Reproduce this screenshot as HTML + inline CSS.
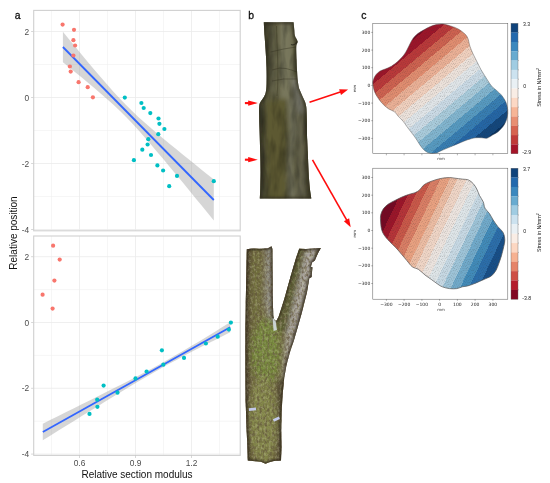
<!DOCTYPE html>
<html><head><meta charset="utf-8"><title>Figure</title>
<style>html,body{margin:0;padding:0;background:#fff}svg{display:block}text{font-family:"Liberation Sans",Arial,sans-serif}.dj{font-family:"DejaVu Sans","Liberation Sans",sans-serif}</style></head>
<body>
<svg width="550" height="483" viewBox="0 0 550 483">
<rect width="550" height="483" fill="#fff"/>
<defs><linearGradient id="g1" gradientUnits="userSpaceOnUse" x1="403.21" y1="44.15" x2="486.77" y2="143.74"><stop offset="0.0000" stop-color="#7c0722"/><stop offset="0.0238" stop-color="#7c0722"/><stop offset="0.0238" stop-color="#a21328"/><stop offset="0.0869" stop-color="#a21328"/><stop offset="0.0869" stop-color="#c2383a"/><stop offset="0.1492" stop-color="#c2383a"/><stop offset="0.1492" stop-color="#d86551"/><stop offset="0.2123" stop-color="#d86551"/><stop offset="0.2123" stop-color="#ec9374"/><stop offset="0.2754" stop-color="#ec9374"/><stop offset="0.2754" stop-color="#f7b99c"/><stop offset="0.3385" stop-color="#f7b99c"/><stop offset="0.3385" stop-color="#fddbc7"/><stop offset="0.4015" stop-color="#fddbc7"/><stop offset="0.4015" stop-color="#f9eee7"/><stop offset="0.4638" stop-color="#f9eee7"/><stop offset="0.4638" stop-color="#ecf2f5"/><stop offset="0.5269" stop-color="#ecf2f5"/><stop offset="0.5269" stop-color="#d4e6f1"/><stop offset="0.5900" stop-color="#d4e6f1"/><stop offset="0.5900" stop-color="#b1d5e7"/><stop offset="0.6531" stop-color="#b1d5e7"/><stop offset="0.6531" stop-color="#87beda"/><stop offset="0.7162" stop-color="#87beda"/><stop offset="0.7162" stop-color="#59a1ca"/><stop offset="0.7785" stop-color="#59a1ca"/><stop offset="0.7785" stop-color="#3783bb"/><stop offset="0.8415" stop-color="#3783bb"/><stop offset="0.8415" stop-color="#2369ad"/><stop offset="0.9046" stop-color="#2369ad"/><stop offset="0.9046" stop-color="#114781"/><stop offset="0.9677" stop-color="#114781"/><stop offset="0.9677" stop-color="#063264"/><stop offset="1.0000" stop-color="#063264"/></linearGradient>
<linearGradient id="g2" gradientUnits="userSpaceOnUse" x1="383.64" y1="203.86" x2="502.88" y2="260.48"><stop offset="0.0000" stop-color="#790622"/><stop offset="0.0833" stop-color="#790622"/><stop offset="0.0833" stop-color="#a21328"/><stop offset="0.1364" stop-color="#a21328"/><stop offset="0.1364" stop-color="#bf3338"/><stop offset="0.1894" stop-color="#bf3338"/><stop offset="0.1894" stop-color="#d35a4a"/><stop offset="0.2477" stop-color="#d35a4a"/><stop offset="0.2477" stop-color="#e58368"/><stop offset="0.3083" stop-color="#e58368"/><stop offset="0.3083" stop-color="#f5a886"/><stop offset="0.3712" stop-color="#f5a886"/><stop offset="0.3712" stop-color="#f9c6ac"/><stop offset="0.4242" stop-color="#f9c6ac"/><stop offset="0.4242" stop-color="#fce0d0"/><stop offset="0.4886" stop-color="#fce0d0"/><stop offset="0.4886" stop-color="#f9f0eb"/><stop offset="0.5492" stop-color="#f9f0eb"/><stop offset="0.5492" stop-color="#eaf1f5"/><stop offset="0.6121" stop-color="#eaf1f5"/><stop offset="0.6121" stop-color="#d1e5f0"/><stop offset="0.6727" stop-color="#d1e5f0"/><stop offset="0.6727" stop-color="#a5cee3"/><stop offset="0.7333" stop-color="#a5cee3"/><stop offset="0.7333" stop-color="#75b2d4"/><stop offset="0.7955" stop-color="#75b2d4"/><stop offset="0.7955" stop-color="#4291c2"/><stop offset="0.8561" stop-color="#4291c2"/><stop offset="0.8561" stop-color="#2a71b2"/><stop offset="0.9205" stop-color="#2a71b2"/><stop offset="0.9205" stop-color="#15508d"/><stop offset="1.0000" stop-color="#15508d"/></linearGradient>
<pattern id="mesh" width="40" height="40" patternUnits="userSpaceOnUse"><g fill="#2a2a2a" fill-opacity="0.42"><circle cx="0.2" cy="1.0" r="0.36"/><circle cx="1.6" cy="3.1" r="0.31"/><circle cx="40.0" cy="5.4" r="0.34"/><circle cx="1.2" cy="7.5" r="0.38"/><circle cx="0.9" cy="9.0" r="0.40"/><circle cx="1.1" cy="11.1" r="0.44"/><circle cx="0.5" cy="13.3" r="0.41"/><circle cx="1.0" cy="15.3" r="0.39"/><circle cx="0.3" cy="16.5" r="0.44"/><circle cx="1.5" cy="19.2" r="0.44"/><circle cx="0.7" cy="21.5" r="0.36"/><circle cx="1.8" cy="22.9" r="0.45"/><circle cx="0.9" cy="24.6" r="0.32"/><circle cx="1.2" cy="27.5" r="0.37"/><circle cx="0.6" cy="28.8" r="0.38"/><circle cx="1.4" cy="30.8" r="0.39"/><circle cx="0.6" cy="33.4" r="0.41"/><circle cx="2.0" cy="35.4" r="0.46"/><circle cx="0.7" cy="36.6" r="0.44"/><circle cx="2.0" cy="39.4" r="0.39"/><circle cx="2.7" cy="0.7" r="0.43"/><circle cx="3.6" cy="2.8" r="0.31"/><circle cx="2.9" cy="5.5" r="0.31"/><circle cx="3.8" cy="6.9" r="0.32"/><circle cx="2.3" cy="9.3" r="0.44"/><circle cx="3.0" cy="11.1" r="0.31"/><circle cx="2.7" cy="12.8" r="0.44"/><circle cx="4.0" cy="15.0" r="0.46"/><circle cx="2.3" cy="16.5" r="0.40"/><circle cx="3.0" cy="18.7" r="0.37"/><circle cx="2.6" cy="20.6" r="0.31"/><circle cx="3.9" cy="22.8" r="0.45"/><circle cx="2.9" cy="24.9" r="0.37"/><circle cx="3.5" cy="27.2" r="0.40"/><circle cx="2.6" cy="29.1" r="0.45"/><circle cx="3.5" cy="30.9" r="0.42"/><circle cx="2.2" cy="32.8" r="0.46"/><circle cx="3.5" cy="35.1" r="0.30"/><circle cx="2.4" cy="37.1" r="0.30"/><circle cx="3.6" cy="39.1" r="0.31"/><circle cx="4.6" cy="1.0" r="0.41"/><circle cx="5.3" cy="3.2" r="0.42"/><circle cx="4.0" cy="4.5" r="0.41"/><circle cx="6.0" cy="6.7" r="0.37"/><circle cx="4.6" cy="8.8" r="0.36"/><circle cx="5.3" cy="10.9" r="0.40"/><circle cx="4.3" cy="12.9" r="0.42"/><circle cx="5.0" cy="15.1" r="0.42"/><circle cx="4.3" cy="16.7" r="0.43"/><circle cx="5.2" cy="18.7" r="0.37"/><circle cx="4.7" cy="20.6" r="0.35"/><circle cx="5.3" cy="23.4" r="0.37"/><circle cx="4.9" cy="24.6" r="0.35"/><circle cx="5.7" cy="27.4" r="0.37"/><circle cx="4.2" cy="28.6" r="0.38"/><circle cx="5.2" cy="31.3" r="0.43"/><circle cx="4.2" cy="32.8" r="0.43"/><circle cx="5.7" cy="35.3" r="0.36"/><circle cx="4.1" cy="36.8" r="0.43"/><circle cx="5.2" cy="38.8" r="0.37"/><circle cx="6.4" cy="0.9" r="0.45"/><circle cx="7.1" cy="2.5" r="0.45"/><circle cx="6.9" cy="5.5" r="0.37"/><circle cx="8.0" cy="7.5" r="0.34"/><circle cx="6.8" cy="9.4" r="0.41"/><circle cx="7.5" cy="10.8" r="0.35"/><circle cx="6.2" cy="12.5" r="0.39"/><circle cx="7.3" cy="15.3" r="0.31"/><circle cx="6.9" cy="17.2" r="0.45"/><circle cx="7.9" cy="19.4" r="0.39"/><circle cx="6.0" cy="21.3" r="0.33"/><circle cx="7.3" cy="23.2" r="0.38"/><circle cx="6.4" cy="25.5" r="0.40"/><circle cx="7.3" cy="26.7" r="0.44"/><circle cx="6.5" cy="29.3" r="0.36"/><circle cx="7.2" cy="31.0" r="0.43"/><circle cx="6.1" cy="33.3" r="0.45"/><circle cx="7.8" cy="35.4" r="0.30"/><circle cx="6.6" cy="37.4" r="0.31"/><circle cx="7.2" cy="38.7" r="0.38"/><circle cx="8.4" cy="1.0" r="0.42"/><circle cx="9.0" cy="2.5" r="0.32"/><circle cx="8.1" cy="4.5" r="0.46"/><circle cx="9.9" cy="6.5" r="0.38"/><circle cx="8.3" cy="8.8" r="0.36"/><circle cx="9.7" cy="11.1" r="0.36"/><circle cx="8.2" cy="12.8" r="0.32"/><circle cx="9.6" cy="15.2" r="0.36"/><circle cx="8.0" cy="16.6" r="0.36"/><circle cx="9.6" cy="19.3" r="0.36"/><circle cx="8.8" cy="21.1" r="0.37"/><circle cx="9.4" cy="23.0" r="0.41"/><circle cx="8.4" cy="25.2" r="0.37"/><circle cx="9.2" cy="27.0" r="0.41"/><circle cx="8.0" cy="28.9" r="0.37"/><circle cx="9.9" cy="31.5" r="0.36"/><circle cx="8.9" cy="33.3" r="0.34"/><circle cx="9.5" cy="34.6" r="0.43"/><circle cx="8.7" cy="37.4" r="0.43"/><circle cx="9.7" cy="39.3" r="0.39"/><circle cx="10.1" cy="1.1" r="0.30"/><circle cx="11.1" cy="3.3" r="0.31"/><circle cx="10.1" cy="4.6" r="0.44"/><circle cx="11.1" cy="6.5" r="0.43"/><circle cx="10.1" cy="9.4" r="0.41"/><circle cx="11.9" cy="11.5" r="0.39"/><circle cx="10.8" cy="12.5" r="0.42"/><circle cx="11.5" cy="15.2" r="0.32"/><circle cx="10.8" cy="17.5" r="0.31"/><circle cx="11.3" cy="19.1" r="0.43"/><circle cx="10.2" cy="20.6" r="0.34"/><circle cx="11.6" cy="23.3" r="0.36"/><circle cx="10.4" cy="24.9" r="0.36"/><circle cx="11.4" cy="26.5" r="0.38"/><circle cx="11.0" cy="28.9" r="0.42"/><circle cx="11.1" cy="31.2" r="0.42"/><circle cx="10.7" cy="33.0" r="0.38"/><circle cx="11.7" cy="35.4" r="0.32"/><circle cx="10.1" cy="37.3" r="0.45"/><circle cx="11.5" cy="38.9" r="0.42"/><circle cx="12.2" cy="0.7" r="0.33"/><circle cx="13.6" cy="2.8" r="0.34"/><circle cx="12.7" cy="5.5" r="0.35"/><circle cx="13.7" cy="6.9" r="0.44"/><circle cx="12.6" cy="8.7" r="0.33"/><circle cx="13.0" cy="11.0" r="0.36"/><circle cx="12.1" cy="12.8" r="0.35"/><circle cx="13.8" cy="14.6" r="0.46"/><circle cx="12.5" cy="17.1" r="0.37"/><circle cx="13.9" cy="19.4" r="0.39"/><circle cx="12.5" cy="21.2" r="0.44"/><circle cx="13.4" cy="23.3" r="0.45"/><circle cx="12.5" cy="24.7" r="0.34"/><circle cx="13.7" cy="27.2" r="0.45"/><circle cx="12.9" cy="28.7" r="0.33"/><circle cx="13.2" cy="30.7" r="0.41"/><circle cx="12.9" cy="33.4" r="0.34"/><circle cx="13.9" cy="34.8" r="0.37"/><circle cx="12.8" cy="36.5" r="0.31"/><circle cx="13.9" cy="38.8" r="0.36"/><circle cx="14.6" cy="1.2" r="0.30"/><circle cx="15.3" cy="2.9" r="0.38"/><circle cx="14.2" cy="5.1" r="0.45"/><circle cx="15.4" cy="7.0" r="0.32"/><circle cx="14.3" cy="9.2" r="0.32"/><circle cx="15.9" cy="11.4" r="0.32"/><circle cx="15.0" cy="12.9" r="0.42"/><circle cx="15.8" cy="14.8" r="0.41"/><circle cx="14.7" cy="17.3" r="0.34"/><circle cx="15.8" cy="19.5" r="0.41"/><circle cx="14.5" cy="20.6" r="0.38"/><circle cx="15.3" cy="23.2" r="0.41"/><circle cx="14.6" cy="24.7" r="0.40"/><circle cx="15.6" cy="26.6" r="0.44"/><circle cx="14.7" cy="28.6" r="0.45"/><circle cx="15.1" cy="30.8" r="0.42"/><circle cx="14.6" cy="33.1" r="0.40"/><circle cx="15.5" cy="34.8" r="0.33"/><circle cx="14.0" cy="37.2" r="0.42"/><circle cx="15.5" cy="39.3" r="0.36"/><circle cx="16.2" cy="0.9" r="0.44"/><circle cx="17.0" cy="3.0" r="0.34"/><circle cx="16.8" cy="4.8" r="0.35"/><circle cx="17.4" cy="7.0" r="0.42"/><circle cx="16.3" cy="9.4" r="0.32"/><circle cx="17.2" cy="10.6" r="0.32"/><circle cx="16.8" cy="13.3" r="0.33"/><circle cx="17.2" cy="14.9" r="0.42"/><circle cx="16.8" cy="17.3" r="0.39"/><circle cx="17.1" cy="18.9" r="0.33"/><circle cx="16.5" cy="21.1" r="0.33"/><circle cx="17.2" cy="23.3" r="0.30"/><circle cx="16.8" cy="25.4" r="0.45"/><circle cx="17.4" cy="27.1" r="0.39"/><circle cx="16.6" cy="29.5" r="0.41"/><circle cx="17.3" cy="31.4" r="0.38"/><circle cx="16.6" cy="33.2" r="0.30"/><circle cx="17.8" cy="35.2" r="0.38"/><circle cx="16.5" cy="37.0" r="0.33"/><circle cx="17.5" cy="38.5" r="0.38"/><circle cx="18.7" cy="0.9" r="0.39"/><circle cx="20.0" cy="3.4" r="0.32"/><circle cx="18.8" cy="5.1" r="0.31"/><circle cx="19.3" cy="6.7" r="0.31"/><circle cx="18.5" cy="9.5" r="0.35"/><circle cx="19.9" cy="11.2" r="0.32"/><circle cx="18.9" cy="13.1" r="0.45"/><circle cx="19.7" cy="15.3" r="0.35"/><circle cx="18.8" cy="17.5" r="0.44"/><circle cx="19.4" cy="19.3" r="0.38"/><circle cx="18.1" cy="20.5" r="0.31"/><circle cx="19.2" cy="22.6" r="0.38"/><circle cx="18.7" cy="25.0" r="0.37"/><circle cx="19.7" cy="26.8" r="0.37"/><circle cx="18.8" cy="28.9" r="0.33"/><circle cx="19.9" cy="31.2" r="0.36"/><circle cx="18.4" cy="33.0" r="0.40"/><circle cx="19.2" cy="34.5" r="0.33"/><circle cx="18.8" cy="36.6" r="0.37"/><circle cx="19.2" cy="38.7" r="0.33"/><circle cx="20.4" cy="0.6" r="0.30"/><circle cx="21.1" cy="2.6" r="0.38"/><circle cx="20.0" cy="4.5" r="0.37"/><circle cx="21.4" cy="7.2" r="0.31"/><circle cx="20.4" cy="8.9" r="0.30"/><circle cx="22.0" cy="10.7" r="0.32"/><circle cx="20.5" cy="12.6" r="0.40"/><circle cx="21.3" cy="14.6" r="0.31"/><circle cx="20.8" cy="16.8" r="0.43"/><circle cx="21.5" cy="19.5" r="0.35"/><circle cx="20.2" cy="20.7" r="0.43"/><circle cx="21.6" cy="22.8" r="0.31"/><circle cx="20.7" cy="25.5" r="0.39"/><circle cx="21.0" cy="26.5" r="0.31"/><circle cx="20.1" cy="28.5" r="0.31"/><circle cx="21.7" cy="31.4" r="0.33"/><circle cx="21.0" cy="33.0" r="0.43"/><circle cx="22.0" cy="35.5" r="0.31"/><circle cx="20.3" cy="37.1" r="0.45"/><circle cx="21.0" cy="38.8" r="0.44"/><circle cx="22.1" cy="0.9" r="0.35"/><circle cx="23.7" cy="3.5" r="0.33"/><circle cx="22.8" cy="5.3" r="0.43"/><circle cx="23.6" cy="7.5" r="0.36"/><circle cx="22.4" cy="8.7" r="0.42"/><circle cx="23.5" cy="10.7" r="0.33"/><circle cx="22.7" cy="13.1" r="0.41"/><circle cx="23.4" cy="15.0" r="0.32"/><circle cx="22.7" cy="16.5" r="0.37"/><circle cx="23.8" cy="19.2" r="0.32"/><circle cx="22.2" cy="21.4" r="0.40"/><circle cx="23.9" cy="23.4" r="0.37"/><circle cx="22.9" cy="25.3" r="0.35"/><circle cx="23.4" cy="26.5" r="0.36"/><circle cx="23.0" cy="28.6" r="0.39"/><circle cx="23.1" cy="30.5" r="0.40"/><circle cx="22.2" cy="32.5" r="0.32"/><circle cx="23.7" cy="35.1" r="0.30"/><circle cx="22.2" cy="37.5" r="0.34"/><circle cx="23.6" cy="38.9" r="0.42"/><circle cx="24.6" cy="1.3" r="0.39"/><circle cx="25.2" cy="2.6" r="0.31"/><circle cx="24.9" cy="4.6" r="0.30"/><circle cx="26.0" cy="6.7" r="0.44"/><circle cx="24.0" cy="9.0" r="0.34"/><circle cx="25.9" cy="11.1" r="0.40"/><circle cx="24.8" cy="13.4" r="0.36"/><circle cx="25.6" cy="14.9" r="0.32"/><circle cx="24.9" cy="17.1" r="0.43"/><circle cx="25.2" cy="19.0" r="0.37"/><circle cx="24.8" cy="20.5" r="0.36"/><circle cx="25.5" cy="22.5" r="0.39"/><circle cx="24.8" cy="24.9" r="0.40"/><circle cx="25.6" cy="26.7" r="0.36"/><circle cx="25.0" cy="28.8" r="0.37"/><circle cx="25.0" cy="30.7" r="0.33"/><circle cx="25.0" cy="33.2" r="0.44"/><circle cx="26.0" cy="35.1" r="0.45"/><circle cx="24.5" cy="36.9" r="0.45"/><circle cx="25.9" cy="39.5" r="0.38"/><circle cx="26.8" cy="0.9" r="0.46"/><circle cx="28.0" cy="2.8" r="0.45"/><circle cx="26.2" cy="4.6" r="0.42"/><circle cx="27.3" cy="7.0" r="0.40"/><circle cx="26.0" cy="9.3" r="0.34"/><circle cx="27.4" cy="10.8" r="0.42"/><circle cx="26.8" cy="12.8" r="0.32"/><circle cx="27.3" cy="14.9" r="0.31"/><circle cx="26.1" cy="17.3" r="0.41"/><circle cx="28.0" cy="19.5" r="0.44"/><circle cx="26.4" cy="20.6" r="0.35"/><circle cx="27.5" cy="23.0" r="0.39"/><circle cx="26.3" cy="25.4" r="0.35"/><circle cx="27.5" cy="27.4" r="0.43"/><circle cx="26.3" cy="28.7" r="0.43"/><circle cx="27.0" cy="30.6" r="0.38"/><circle cx="26.5" cy="32.6" r="0.31"/><circle cx="27.2" cy="35.3" r="0.37"/><circle cx="27.0" cy="37.3" r="0.46"/><circle cx="27.0" cy="38.7" r="0.30"/><circle cx="28.4" cy="0.8" r="0.31"/><circle cx="29.6" cy="2.6" r="0.35"/><circle cx="28.2" cy="5.3" r="0.37"/><circle cx="29.2" cy="6.5" r="0.37"/><circle cx="28.6" cy="9.2" r="0.45"/><circle cx="29.8" cy="10.7" r="0.32"/><circle cx="28.8" cy="13.3" r="0.38"/><circle cx="29.9" cy="15.1" r="0.34"/><circle cx="28.1" cy="16.5" r="0.40"/><circle cx="29.9" cy="19.4" r="0.37"/><circle cx="28.7" cy="21.5" r="0.43"/><circle cx="29.6" cy="22.9" r="0.38"/><circle cx="28.1" cy="24.7" r="0.41"/><circle cx="30.0" cy="27.1" r="0.37"/><circle cx="28.3" cy="29.0" r="0.43"/><circle cx="29.4" cy="31.5" r="0.32"/><circle cx="28.3" cy="33.0" r="0.37"/><circle cx="29.9" cy="35.4" r="0.45"/><circle cx="28.6" cy="36.5" r="0.39"/><circle cx="29.6" cy="39.0" r="0.34"/><circle cx="30.7" cy="1.5" r="0.32"/><circle cx="31.7" cy="2.9" r="0.38"/><circle cx="30.9" cy="5.5" r="0.40"/><circle cx="31.2" cy="7.5" r="0.33"/><circle cx="30.4" cy="9.4" r="0.35"/><circle cx="31.2" cy="11.5" r="0.45"/><circle cx="30.3" cy="12.9" r="0.35"/><circle cx="31.1" cy="14.7" r="0.46"/><circle cx="30.0" cy="16.7" r="0.33"/><circle cx="31.0" cy="19.0" r="0.42"/><circle cx="30.9" cy="21.1" r="0.43"/><circle cx="31.0" cy="22.8" r="0.45"/><circle cx="30.0" cy="24.7" r="0.38"/><circle cx="31.2" cy="27.1" r="0.31"/><circle cx="30.2" cy="29.5" r="0.32"/><circle cx="31.9" cy="30.6" r="0.46"/><circle cx="30.7" cy="33.2" r="0.32"/><circle cx="31.0" cy="35.3" r="0.33"/><circle cx="30.2" cy="37.4" r="0.44"/><circle cx="31.0" cy="39.5" r="0.39"/><circle cx="32.4" cy="0.6" r="0.36"/><circle cx="34.0" cy="2.8" r="0.32"/><circle cx="32.1" cy="4.6" r="0.36"/><circle cx="34.0" cy="6.5" r="0.33"/><circle cx="33.0" cy="9.5" r="0.46"/><circle cx="33.2" cy="10.8" r="0.45"/><circle cx="32.5" cy="13.2" r="0.35"/><circle cx="33.0" cy="14.8" r="0.42"/><circle cx="32.8" cy="17.1" r="0.37"/><circle cx="33.5" cy="18.9" r="0.39"/><circle cx="32.9" cy="20.7" r="0.40"/><circle cx="34.0" cy="23.4" r="0.33"/><circle cx="33.0" cy="25.4" r="0.33"/><circle cx="33.2" cy="26.7" r="0.31"/><circle cx="33.0" cy="28.9" r="0.44"/><circle cx="33.1" cy="30.5" r="0.44"/><circle cx="32.8" cy="33.5" r="0.41"/><circle cx="33.5" cy="35.3" r="0.31"/><circle cx="32.5" cy="36.9" r="0.32"/><circle cx="33.6" cy="38.8" r="0.38"/><circle cx="34.4" cy="0.8" r="0.36"/><circle cx="35.6" cy="3.5" r="0.45"/><circle cx="34.9" cy="5.4" r="0.35"/><circle cx="36.0" cy="6.7" r="0.32"/><circle cx="34.5" cy="9.3" r="0.35"/><circle cx="35.7" cy="10.8" r="0.45"/><circle cx="34.4" cy="13.0" r="0.39"/><circle cx="35.9" cy="15.5" r="0.38"/><circle cx="34.4" cy="17.1" r="0.31"/><circle cx="35.4" cy="19.4" r="0.42"/><circle cx="34.0" cy="21.4" r="0.36"/><circle cx="36.0" cy="22.9" r="0.33"/><circle cx="34.6" cy="25.4" r="0.37"/><circle cx="35.9" cy="27.2" r="0.36"/><circle cx="34.3" cy="29.0" r="0.36"/><circle cx="35.4" cy="31.2" r="0.44"/><circle cx="34.6" cy="32.6" r="0.34"/><circle cx="35.4" cy="35.1" r="0.32"/><circle cx="34.0" cy="36.8" r="0.35"/><circle cx="35.0" cy="39.0" r="0.45"/><circle cx="36.5" cy="1.3" r="0.43"/><circle cx="37.9" cy="3.5" r="0.37"/><circle cx="36.7" cy="4.6" r="0.44"/><circle cx="37.4" cy="7.0" r="0.44"/><circle cx="36.3" cy="8.7" r="0.43"/><circle cx="37.6" cy="10.5" r="0.30"/><circle cx="36.3" cy="12.5" r="0.43"/><circle cx="37.2" cy="14.8" r="0.36"/><circle cx="36.5" cy="16.9" r="0.40"/><circle cx="37.7" cy="18.9" r="0.32"/><circle cx="37.0" cy="21.2" r="0.31"/><circle cx="37.4" cy="23.3" r="0.46"/><circle cx="36.0" cy="24.5" r="0.38"/><circle cx="37.4" cy="27.4" r="0.43"/><circle cx="36.3" cy="28.9" r="0.39"/><circle cx="37.9" cy="30.7" r="0.36"/><circle cx="36.0" cy="33.2" r="0.30"/><circle cx="38.0" cy="35.0" r="0.39"/><circle cx="36.0" cy="36.7" r="0.38"/><circle cx="37.9" cy="39.0" r="0.35"/><circle cx="39.0" cy="1.2" r="0.38"/><circle cx="39.2" cy="2.8" r="0.44"/><circle cx="38.1" cy="5.0" r="0.40"/><circle cx="39.3" cy="7.3" r="0.45"/><circle cx="38.9" cy="9.3" r="0.33"/><circle cx="39.0" cy="10.9" r="0.35"/><circle cx="38.2" cy="13.4" r="0.33"/><circle cx="39.9" cy="15.5" r="0.32"/><circle cx="39.0" cy="16.9" r="0.33"/><circle cx="39.2" cy="18.5" r="0.38"/><circle cx="38.4" cy="21.4" r="0.43"/><circle cx="39.0" cy="22.9" r="0.36"/><circle cx="38.1" cy="24.7" r="0.34"/><circle cx="39.7" cy="26.8" r="0.32"/><circle cx="38.2" cy="28.9" r="0.39"/><circle cx="39.2" cy="31.2" r="0.33"/><circle cx="38.7" cy="33.1" r="0.33"/><circle cx="39.8" cy="34.9" r="0.39"/><circle cx="38.6" cy="37.1" r="0.37"/><circle cx="39.0" cy="39.3" r="0.44"/></g></pattern>
<clipPath id="c1"><path d="M372.8,83.3C372.7,81.4 373.0,80.8 373.5,79.4C374.0,78.0 374.8,76.2 375.9,74.8C376.9,73.4 378.2,72.2 379.8,71.2C381.4,70.2 383.3,69.8 385.2,69.0C387.1,68.2 389.3,67.4 391.4,66.2C393.5,65.0 395.7,63.3 397.6,61.6C399.5,59.9 401.4,58.1 403.0,56.1C404.6,54.1 405.7,52.0 406.9,49.9C408.1,47.8 409.0,45.6 410.0,43.7C411.0,41.8 411.8,40.0 413.1,38.3C414.4,36.6 416.0,35.0 417.8,33.6C419.6,32.2 421.9,31.0 424.0,29.8C426.1,28.6 428.1,27.5 430.2,26.6C432.3,25.7 434.3,25.0 436.4,24.6C438.5,24.2 440.4,23.8 442.8,24.0C445.2,24.2 447.9,25.1 450.5,25.9C453.1,26.7 456.0,27.7 458.3,29.0C460.6,30.3 462.9,32.1 464.5,33.6C466.1,35.1 467.0,36.2 467.9,38.3C468.8,40.4 469.0,43.5 469.9,46.1C470.8,48.7 471.8,51.2 473.0,53.8C474.2,56.4 475.6,59.0 476.9,61.6C478.2,64.2 479.5,67.0 480.8,69.3C482.1,71.6 483.4,73.5 484.7,75.6C486.0,77.7 487.4,80.0 488.6,81.8C489.8,83.6 490.3,84.7 491.7,86.2C493.1,87.7 495.4,89.4 497.1,90.9C498.8,92.5 500.4,93.7 501.8,95.5C503.2,97.3 504.7,99.4 505.7,101.7C506.7,104.0 507.4,106.9 507.7,109.5C507.9,112.1 507.8,114.7 507.2,117.3C506.6,119.9 505.5,122.7 504.1,125.0C502.7,127.3 500.6,129.5 498.7,131.2C496.8,132.9 494.4,133.9 492.5,135.1C490.6,136.3 488.8,137.8 487.0,138.2C485.2,138.6 483.5,137.9 481.6,137.8C479.7,137.7 477.7,137.5 475.4,137.8C473.1,138.1 470.2,139.0 467.6,139.8C465.0,140.7 462.7,141.7 459.8,142.9C456.9,144.1 453.6,145.5 450.5,146.8C447.4,148.1 443.6,149.7 441.2,150.7C438.8,151.7 438.2,152.6 436.4,153.0C434.6,153.4 432.1,153.7 430.2,153.3C428.3,152.9 426.5,152.0 424.8,150.7C423.1,149.3 421.5,147.1 420.1,145.2C418.7,143.2 417.6,141.1 416.2,139.0C414.8,136.9 413.2,134.9 411.6,132.8C410.1,130.7 408.3,128.6 406.9,126.6C405.5,124.6 404.4,122.8 403.0,121.1C401.6,119.4 399.8,118.0 398.4,116.5C397.0,115.0 396.2,113.1 394.5,111.8C392.8,110.5 390.4,110.1 388.3,108.7C386.2,107.3 383.9,105.2 382.1,103.3C380.3,101.4 378.7,99.2 377.4,97.1C376.1,95.0 375.1,93.2 374.3,90.9C373.5,88.6 372.9,85.2 372.8,83.3Z"/></clipPath>
<clipPath id="c2"><path d="M380.5,220.0C380.4,217.6 380.4,216.3 380.8,214.5C381.2,212.7 382.1,210.8 383.2,209.1C384.3,207.4 385.9,205.9 387.7,204.5C389.5,203.1 391.8,202.1 394.1,200.9C396.4,199.7 399.0,198.4 401.4,197.3C403.8,196.2 406.3,195.3 408.6,194.5C410.9,193.7 413.2,193.4 415.0,192.7C416.8,191.9 418.1,191.2 419.5,190.0C420.9,188.8 421.8,186.7 423.2,185.5C424.6,184.3 425.7,183.6 427.7,182.7C429.7,181.8 432.6,180.8 435.0,180.0C437.4,179.2 439.9,178.6 442.3,178.2C444.7,177.8 447.4,177.6 449.5,177.6C451.6,177.6 452.9,177.9 455.0,178.2C457.1,178.4 460.0,178.8 462.3,179.1C464.6,179.4 466.8,179.2 468.6,180.0C470.4,180.8 471.8,182.1 473.2,183.6C474.6,185.1 475.8,187.1 476.8,189.1C477.9,191.1 478.4,193.4 479.5,195.5C480.6,197.6 482.3,199.7 483.2,201.8C484.1,203.9 483.9,206.2 485.0,208.2C486.1,210.2 488.1,211.6 489.5,213.6C490.9,215.6 491.8,217.9 493.2,220.0C494.6,222.1 496.0,224.3 497.7,226.4C499.4,228.5 502.0,230.4 503.2,232.7C504.4,235.0 504.7,237.7 504.8,240.0C504.9,242.3 504.3,244.2 503.7,246.8C503.1,249.5 502.2,253.0 501.4,255.9C500.5,258.8 499.5,261.7 498.6,264.1C497.7,266.5 497.1,268.5 495.9,270.5C494.7,272.5 493.1,274.5 491.4,275.9C489.7,277.2 487.9,277.7 485.9,278.6C483.9,279.5 481.6,280.5 479.5,281.4C477.4,282.3 475.2,283.4 473.2,284.1C471.2,284.9 469.5,285.4 467.7,285.9C465.9,286.3 464.1,286.4 462.3,286.8C460.5,287.2 458.9,288.3 456.8,288.6C454.7,288.9 451.9,288.9 449.5,288.6C447.1,288.3 444.3,287.6 442.3,286.8C440.3,286.1 439.5,285.3 437.7,284.1C435.9,282.9 433.5,281.0 431.4,279.5C429.3,278.0 427.1,276.7 425.0,275.0C422.9,273.3 420.7,270.9 418.6,269.5C416.5,268.1 414.3,268.3 412.3,266.8C410.3,265.3 408.6,262.6 406.8,260.5C405.0,258.4 403.2,256.2 401.4,254.1C399.6,252.0 397.9,249.8 395.9,247.7C393.9,245.6 391.5,243.5 389.5,241.4C387.5,239.3 385.4,237.1 384.1,235.0C382.8,232.9 382.1,231.5 381.5,229.0C380.9,226.5 380.6,222.4 380.5,220.0Z"/></clipPath>
<linearGradient id="tr1" x1="0" y1="0" x2="1" y2="0">
<stop offset="0" stop-color="#3b3a25"/><stop offset="0.12" stop-color="#4d4c33"/><stop offset="0.35" stop-color="#5c5b40"/><stop offset="0.6" stop-color="#66654a"/><stop offset="0.82" stop-color="#55543a"/><stop offset="1" stop-color="#3d3c28"/></linearGradient>
<linearGradient id="tr2" x1="0" y1="0" x2="1" y2="0">
<stop offset="0" stop-color="#3f3a26"/><stop offset="0.15" stop-color="#5d5538"/><stop offset="0.4" stop-color="#6f7040"/><stop offset="0.7" stop-color="#7a7a50"/><stop offset="0.9" stop-color="#5b5038"/><stop offset="1" stop-color="#3a3022"/></linearGradient>
<linearGradient id="tr3" gradientUnits="userSpaceOnUse" x1="285" y1="280" x2="305" y2="290">
<stop offset="0" stop-color="#5c5a36"/><stop offset="0.35" stop-color="#7b7a55"/><stop offset="0.6" stop-color="#9b9690"/><stop offset="0.85" stop-color="#6d675f"/><stop offset="1" stop-color="#3e382f"/></linearGradient>
<filter id="noise1" x="0" y="0" width="100%" height="100%"><feTurbulence type="fractalNoise" baseFrequency="0.12 0.035" numOctaves="3" seed="4" result="n"/><feColorMatrix in="n" type="matrix" values="0 0 0 0 0  0 0 0 0 0  0 0 0 0 0  1.6 0 0 0 -0.55"/></filter>
<filter id="noise2" x="0" y="0" width="100%" height="100%"><feTurbulence type="fractalNoise" baseFrequency="0.4 0.3" numOctaves="3" seed="9" result="n"/><feColorMatrix in="n" type="matrix" values="0 0 0 0 0.13  0 0 0 0 0.10  0 0 0 0 0.05  0 0 0 3.0 -1.2"/></filter>
<filter id="noise3" x="0" y="0" width="100%" height="100%"><feTurbulence type="fractalNoise" baseFrequency="0.45 0.32" numOctaves="3" seed="21" result="n"/><feColorMatrix in="n" type="matrix" values="0 0 0 0 0.62  0 0 0 0 0.64  0 0 0 0 0.38  0 0 0 3.0 -1.3"/></filter>
<filter id="bl1"><feGaussianBlur stdDeviation="0.5"/></filter><filter id="bl1b"><feGaussianBlur stdDeviation="1"/></filter><filter id="bl2"><feGaussianBlur stdDeviation="1.6"/></filter><filter id="bl3" x="-50%" y="-20%" width="200%" height="140%"><feGaussianBlur stdDeviation="2.2"/></filter>
<marker id="ah" viewBox="0 0 10 8" refX="9" refY="4" markerWidth="9" markerHeight="6.4" markerUnits="userSpaceOnUse" orient="auto"><path d="M0,0L10,4L0,8Z" fill="#ff0d0d"/></marker></defs>
<g>
<rect x="33.7" y="10.4" width="206.5" height="220.4" fill="#fff"/>
<line x1="33.7" x2="240.2" y1="64.5" y2="64.5" stroke="#f0f0f0" stroke-width="0.6"/>
<line x1="33.7" x2="240.2" y1="130.5" y2="130.5" stroke="#f0f0f0" stroke-width="0.6"/>
<line x1="33.7" x2="240.2" y1="196.5" y2="196.5" stroke="#f0f0f0" stroke-width="0.6"/>
<line x1="51.5" x2="51.5" y1="10.4" y2="230.8" stroke="#f0f0f0" stroke-width="0.6"/>
<line x1="107.5" x2="107.5" y1="10.4" y2="230.8" stroke="#f0f0f0" stroke-width="0.6"/>
<line x1="163.5" x2="163.5" y1="10.4" y2="230.8" stroke="#f0f0f0" stroke-width="0.6"/>
<line x1="219.5" x2="219.5" y1="10.4" y2="230.8" stroke="#f0f0f0" stroke-width="0.6"/>
<line x1="33.7" x2="240.2" y1="31.5" y2="31.5" stroke="#ebebeb" stroke-width="0.8"/>
<line x1="31.1" x2="33.7" y1="31.5" y2="31.5" stroke="#bdbdbd" stroke-width="0.6"/>
<text x="29.2" y="34.5" font-size="8.4" fill="#4d4d4d" text-anchor="end">2</text>
<line x1="33.7" x2="240.2" y1="97.5" y2="97.5" stroke="#ebebeb" stroke-width="0.8"/>
<line x1="31.1" x2="33.7" y1="97.5" y2="97.5" stroke="#bdbdbd" stroke-width="0.6"/>
<text x="29.2" y="100.5" font-size="8.4" fill="#4d4d4d" text-anchor="end">0</text>
<line x1="33.7" x2="240.2" y1="163.5" y2="163.5" stroke="#ebebeb" stroke-width="0.8"/>
<line x1="31.1" x2="33.7" y1="163.5" y2="163.5" stroke="#bdbdbd" stroke-width="0.6"/>
<text x="29.2" y="166.5" font-size="8.4" fill="#4d4d4d" text-anchor="end">-2</text>
<line x1="33.7" x2="240.2" y1="229.5" y2="229.5" stroke="#ebebeb" stroke-width="0.8"/>
<line x1="31.1" x2="33.7" y1="229.5" y2="229.5" stroke="#bdbdbd" stroke-width="0.6"/>
<text x="29.2" y="232.5" font-size="8.4" fill="#4d4d4d" text-anchor="end">-4</text>
<line x1="79.5" x2="79.5" y1="10.4" y2="230.8" stroke="#ebebeb" stroke-width="0.8"/>
<line x1="135.5" x2="135.5" y1="10.4" y2="230.8" stroke="#ebebeb" stroke-width="0.8"/>
<line x1="191.5" x2="191.5" y1="10.4" y2="230.8" stroke="#ebebeb" stroke-width="0.8"/>
</g>
<g>
<rect x="33.7" y="236.0" width="206.5" height="219.4" fill="#fff"/>
<line x1="33.7" x2="240.2" y1="289.6" y2="289.6" stroke="#f0f0f0" stroke-width="0.6"/>
<line x1="33.7" x2="240.2" y1="355.4" y2="355.4" stroke="#f0f0f0" stroke-width="0.6"/>
<line x1="33.7" x2="240.2" y1="421.2" y2="421.2" stroke="#f0f0f0" stroke-width="0.6"/>
<line x1="51.5" x2="51.5" y1="236.0" y2="455.4" stroke="#f0f0f0" stroke-width="0.6"/>
<line x1="107.5" x2="107.5" y1="236.0" y2="455.4" stroke="#f0f0f0" stroke-width="0.6"/>
<line x1="163.5" x2="163.5" y1="236.0" y2="455.4" stroke="#f0f0f0" stroke-width="0.6"/>
<line x1="219.5" x2="219.5" y1="236.0" y2="455.4" stroke="#f0f0f0" stroke-width="0.6"/>
<line x1="33.7" x2="240.2" y1="256.7" y2="256.7" stroke="#ebebeb" stroke-width="0.8"/>
<line x1="31.1" x2="33.7" y1="256.7" y2="256.7" stroke="#bdbdbd" stroke-width="0.6"/>
<text x="29.2" y="259.7" font-size="8.4" fill="#4d4d4d" text-anchor="end">2</text>
<line x1="33.7" x2="240.2" y1="322.5" y2="322.5" stroke="#ebebeb" stroke-width="0.8"/>
<line x1="31.1" x2="33.7" y1="322.5" y2="322.5" stroke="#bdbdbd" stroke-width="0.6"/>
<text x="29.2" y="325.5" font-size="8.4" fill="#4d4d4d" text-anchor="end">0</text>
<line x1="33.7" x2="240.2" y1="388.3" y2="388.3" stroke="#ebebeb" stroke-width="0.8"/>
<line x1="31.1" x2="33.7" y1="388.3" y2="388.3" stroke="#bdbdbd" stroke-width="0.6"/>
<text x="29.2" y="391.3" font-size="8.4" fill="#4d4d4d" text-anchor="end">-2</text>
<line x1="33.7" x2="240.2" y1="454.1" y2="454.1" stroke="#ebebeb" stroke-width="0.8"/>
<line x1="31.1" x2="33.7" y1="454.1" y2="454.1" stroke="#bdbdbd" stroke-width="0.6"/>
<text x="29.2" y="457.1" font-size="8.4" fill="#4d4d4d" text-anchor="end">-4</text>
<line x1="79.5" x2="79.5" y1="236.0" y2="455.4" stroke="#ebebeb" stroke-width="0.8"/>
<line x1="135.5" x2="135.5" y1="236.0" y2="455.4" stroke="#ebebeb" stroke-width="0.8"/>
<line x1="191.5" x2="191.5" y1="236.0" y2="455.4" stroke="#ebebeb" stroke-width="0.8"/>
</g>
<path d="M62.9,31.8L69.2,39.4L75.5,47.1L81.8,54.7L88.0,62.2L94.3,69.7L100.6,77.1L106.9,84.3L113.2,91.4L119.5,98.2L125.8,104.7L132.1,111.0L138.3,116.9L144.6,122.5L150.9,128.0L157.2,133.4L163.5,138.7L169.8,143.9L176.1,149.0L182.4,154.2L188.7,159.3L194.9,164.3L201.2,169.4L207.5,174.5L213.8,179.5L213.8,220.5L207.5,212.8L201.2,205.1L194.9,197.4L188.7,189.7L182.4,182.1L176.1,174.5L169.8,166.9L163.5,159.3L157.2,151.9L150.9,144.5L144.6,137.2L138.3,130.1L132.1,123.3L125.8,116.8L119.5,110.5L113.2,104.6L106.9,98.9L100.6,93.4L94.3,88.1L88.0,82.8L81.8,77.6L75.5,72.4L69.2,67.3L62.9,62.2Z" fill="#999" fill-opacity="0.4"/>
<line x1="62.9" y1="47.0" x2="213.8" y2="200.0" stroke="#3366ff" stroke-width="1.8"/>
<circle cx="62.6" cy="24.6" r="2.1" fill="#f8766d"/>
<circle cx="74.0" cy="29.8" r="2.1" fill="#f8766d"/>
<circle cx="73.4" cy="40.2" r="2.1" fill="#f8766d"/>
<circle cx="75.1" cy="45.5" r="2.1" fill="#f8766d"/>
<circle cx="73.4" cy="55.5" r="2.1" fill="#f8766d"/>
<circle cx="69.9" cy="66.5" r="2.1" fill="#f8766d"/>
<circle cx="70.7" cy="71.6" r="2.1" fill="#f8766d"/>
<circle cx="78.6" cy="82.2" r="2.1" fill="#f8766d"/>
<circle cx="87.7" cy="87.2" r="2.1" fill="#f8766d"/>
<circle cx="92.9" cy="97.3" r="2.1" fill="#f8766d"/>
<circle cx="124.8" cy="97.6" r="2.1" fill="#00bfc4"/>
<circle cx="141.4" cy="103.0" r="2.1" fill="#00bfc4"/>
<circle cx="143.7" cy="108.0" r="2.1" fill="#00bfc4"/>
<circle cx="150.3" cy="113.1" r="2.1" fill="#00bfc4"/>
<circle cx="158.5" cy="118.5" r="2.1" fill="#00bfc4"/>
<circle cx="159.4" cy="123.8" r="2.1" fill="#00bfc4"/>
<circle cx="164.4" cy="129.0" r="2.1" fill="#00bfc4"/>
<circle cx="158.3" cy="134.2" r="2.1" fill="#00bfc4"/>
<circle cx="148.3" cy="139.2" r="2.1" fill="#00bfc4"/>
<circle cx="147.6" cy="144.5" r="2.1" fill="#00bfc4"/>
<circle cx="142.3" cy="149.7" r="2.1" fill="#00bfc4"/>
<circle cx="151.0" cy="155.0" r="2.1" fill="#00bfc4"/>
<circle cx="133.9" cy="160.2" r="2.1" fill="#00bfc4"/>
<circle cx="157.4" cy="165.4" r="2.1" fill="#00bfc4"/>
<circle cx="163.1" cy="170.5" r="2.1" fill="#00bfc4"/>
<circle cx="177.0" cy="175.9" r="2.1" fill="#00bfc4"/>
<circle cx="169.2" cy="186.2" r="2.1" fill="#00bfc4"/>
<circle cx="213.8" cy="181.2" r="2.1" fill="#00bfc4"/>
<path d="M42.8,423.7L50.6,419.8L58.4,416.0L66.2,412.1L74.0,408.2L81.8,404.3L89.6,400.4L97.5,396.5L105.3,392.6L113.1,388.6L120.9,384.7L128.7,380.7L136.5,376.7L144.3,372.6L152.1,368.4L159.9,364.2L167.7,359.8L175.5,355.3L183.3,350.7L191.2,346.1L199.0,341.4L206.8,336.7L214.6,331.9L222.4,327.1L230.2,322.3L230.2,332.3L222.4,336.2L214.6,340.2L206.8,344.1L199.0,348.1L191.2,352.1L183.3,356.2L175.5,360.4L167.7,364.6L159.9,369.0L152.1,373.4L144.3,378.0L136.5,382.6L128.7,387.3L120.9,392.1L113.1,396.8L105.3,401.6L97.5,406.4L89.6,411.2L81.8,416.1L74.0,420.9L66.2,425.7L58.4,430.6L50.6,435.4L42.8,440.3Z" fill="#999" fill-opacity="0.4"/>
<line x1="42.8" y1="432.0" x2="230.2" y2="327.3" stroke="#3366ff" stroke-width="1.8"/>
<circle cx="53.1" cy="245.7" r="2.1" fill="#f8766d"/>
<circle cx="59.7" cy="259.6" r="2.1" fill="#f8766d"/>
<circle cx="54.4" cy="280.6" r="2.1" fill="#f8766d"/>
<circle cx="42.6" cy="294.7" r="2.1" fill="#f8766d"/>
<circle cx="52.6" cy="308.6" r="2.1" fill="#f8766d"/>
<circle cx="103.6" cy="385.6" r="2.1" fill="#00bfc4"/>
<circle cx="117.5" cy="392.7" r="2.1" fill="#00bfc4"/>
<circle cx="97.2" cy="399.7" r="2.1" fill="#00bfc4"/>
<circle cx="97.4" cy="406.8" r="2.1" fill="#00bfc4"/>
<circle cx="89.5" cy="413.9" r="2.1" fill="#00bfc4"/>
<circle cx="135.5" cy="378.4" r="2.1" fill="#00bfc4"/>
<circle cx="230.9" cy="322.6" r="2.1" fill="#00bfc4"/>
<circle cx="228.9" cy="329.6" r="2.1" fill="#00bfc4"/>
<circle cx="217.7" cy="336.7" r="2.1" fill="#00bfc4"/>
<circle cx="205.9" cy="343.5" r="2.1" fill="#00bfc4"/>
<circle cx="184.0" cy="357.9" r="2.1" fill="#00bfc4"/>
<circle cx="161.9" cy="350.3" r="2.1" fill="#00bfc4"/>
<circle cx="163.3" cy="364.7" r="2.1" fill="#00bfc4"/>
<circle cx="146.6" cy="371.5" r="2.1" fill="#00bfc4"/>
<rect x="33.7" y="10.4" width="206.5" height="220.4" fill="none" stroke="#d0d0d0" stroke-width="1.1"/>
<rect x="33.7" y="236.0" width="206.5" height="219.4" fill="none" stroke="#d0d0d0" stroke-width="1.1"/>
<line x1="79.5" x2="79.5" y1="455.4" y2="458" stroke="#bdbdbd" stroke-width="0.6"/>
<text x="79.5" y="466.4" font-size="8.4" fill="#4d4d4d" text-anchor="middle">0.6</text>
<line x1="135.5" x2="135.5" y1="455.4" y2="458" stroke="#bdbdbd" stroke-width="0.6"/>
<text x="135.5" y="466.4" font-size="8.4" fill="#4d4d4d" text-anchor="middle">0.9</text>
<line x1="191.5" x2="191.5" y1="455.4" y2="458" stroke="#bdbdbd" stroke-width="0.6"/>
<text x="191.5" y="466.4" font-size="8.4" fill="#4d4d4d" text-anchor="middle">1.2</text>
<text x="137" y="478" font-size="10" fill="#111" text-anchor="middle">Relative section modulus</text>
<text transform="translate(17.4,233) rotate(-90)" font-size="10" fill="#111" text-anchor="middle">Relative position</text>
<text x="14.8" y="18.8" font-size="10.4" fill="#111" stroke="#111" stroke-width="0.3">a</text>
<text x="248.2" y="18.6" font-size="10.4" fill="#111" stroke="#111" stroke-width="0.3">b</text>
<text x="361.2" y="19.2" font-size="10.4" fill="#111" stroke="#111" stroke-width="0.3">c</text>
<clipPath id="ct1"><path d="M293.6,22.3C293.7,23.6 294.1,27.7 294.3,30.0C294.5,32.3 294.4,34.1 295.0,36.0C295.6,37.9 297.4,39.8 297.6,41.5C297.8,43.2 296.5,43.4 296.3,46.5C296.1,49.6 296.5,56.1 296.6,60.0C296.7,63.9 296.8,66.7 297.0,70.0C297.2,73.3 297.4,77.1 297.7,80.0C298.0,82.9 298.4,85.5 298.8,87.3C299.2,89.1 299.7,89.8 300.2,91.0C300.7,92.2 301.1,93.2 301.7,94.5C302.2,95.8 302.9,97.3 303.5,98.5C304.1,99.7 304.6,100.6 305.0,101.8C305.4,103.0 305.8,104.3 306.0,105.5C306.2,106.7 306.4,106.6 306.5,109.0C306.6,111.4 306.7,114.8 306.8,120.0C306.9,125.2 307.0,134.7 307.2,140.0C307.4,145.3 307.6,146.7 307.8,152.0C308.0,157.3 308.3,166.0 308.6,172.0C308.9,178.0 309.4,183.6 309.8,188.0C310.2,192.4 311.1,196.7 311.3,198.4L259.8,198.4C259.9,196.7 260.2,192.4 260.3,188.0C260.4,183.6 260.6,178.0 260.6,172.0C260.6,166.0 260.4,158.8 260.2,152.0C260.0,145.2 259.8,137.2 259.6,131.0C259.4,124.8 259.2,119.2 259.2,115.0C259.1,110.8 259.1,108.1 259.3,106.0C259.5,103.9 259.7,103.6 260.2,102.5C260.7,101.4 261.5,100.5 262.2,99.5C262.9,98.5 263.6,97.8 264.2,96.5C264.8,95.2 265.4,94.1 265.8,92.0C266.2,89.9 266.5,88.2 266.6,84.0C266.7,79.8 266.7,72.7 266.5,67.0C266.3,61.3 265.9,55.2 265.6,50.0C265.3,44.8 264.9,40.6 264.6,36.0C264.3,31.4 263.9,24.6 263.8,22.3Z"/></clipPath>
<g clip-path="url(#ct1)"><rect x="255" y="20" width="60" height="182" fill="#5b593d"/>
<g filter="url(#bl3)">
<path d="M262,20 L269,20 L270,88 L264,100 L266,200 L256,200 L256,100 L264,90Z" fill="#403e2a" opacity="0.8"/>
<path d="M279,20 L292,20 L294,84 L290,100 L280,100 L279,80Z" fill="#7a795e" opacity="0.95"/>
<path d="M270.5,24 L274.5,24 L276,95 L271,95Z" fill="#727156" opacity="0.8"/>
<path d="M266,102 L286,98 L287,150 L286,200 L268,200 L266,150Z" fill="#5d5932" opacity="0.9"/>
<path d="M288,98 L294,98 L296,130 L293,165 L295,200 L289,200 L288,165 L290,130Z" fill="#82826c" opacity="0.75"/>
<path d="M296,96 L304,96 L306,200 L296,200 L297,150Z" fill="#66644f" opacity="0.8"/>
<path d="M304,110 L314,110 L315,200 L306,200Z" fill="#434129" opacity="0.8"/>
<path d="M291,78 L297,78 L303,96 L305,112 L297,114 L294,96Z" fill="#7c7c72" opacity="0.8"/>
</g>
<rect x="255" y="20" width="60" height="182" filter="url(#noise1)" opacity="0.4"/>
<path d="M270.5,52 Q284,48.5 296,47 M272,70 Q280,67 286,68.5 T297,72 M272,81 Q283,78 297,79" stroke="#2f2e1c" stroke-width="0.7" fill="none" opacity="0.55"/>
<path d="M291,44.5 Q294.5,46 297.3,41.5" stroke="#26251a" stroke-width="1.3" fill="none" opacity="0.75"/>
<path d="M276.5,26 C277,50 279,75 277,96" stroke="#34331f" stroke-width="0.8" fill="none" opacity="0.5"/>
<path d="M293.6,22.3C293.7,23.6 294.1,27.7 294.3,30.0C294.5,32.3 294.4,34.1 295.0,36.0C295.6,37.9 297.4,39.8 297.6,41.5C297.8,43.2 296.5,43.4 296.3,46.5C296.1,49.6 296.5,56.1 296.6,60.0C296.7,63.9 296.8,66.7 297.0,70.0C297.2,73.3 297.4,77.1 297.7,80.0C298.0,82.9 298.4,85.5 298.8,87.3C299.2,89.1 299.7,89.8 300.2,91.0C300.7,92.2 301.1,93.2 301.7,94.5C302.2,95.8 302.9,97.3 303.5,98.5C304.1,99.7 304.6,100.6 305.0,101.8C305.4,103.0 305.8,104.3 306.0,105.5C306.2,106.7 306.4,106.6 306.5,109.0C306.6,111.4 306.7,114.8 306.8,120.0C306.9,125.2 307.0,134.7 307.2,140.0C307.4,145.3 307.6,146.7 307.8,152.0C308.0,157.3 308.3,166.0 308.6,172.0C308.9,178.0 309.4,183.6 309.8,188.0C310.2,192.4 311.1,196.7 311.3,198.4L259.8,198.4C259.9,196.7 260.2,192.4 260.3,188.0C260.4,183.6 260.6,178.0 260.6,172.0C260.6,166.0 260.4,158.8 260.2,152.0C260.0,145.2 259.8,137.2 259.6,131.0C259.4,124.8 259.2,119.2 259.2,115.0C259.1,110.8 259.1,108.1 259.3,106.0C259.5,103.9 259.7,103.6 260.2,102.5C260.7,101.4 261.5,100.5 262.2,99.5C262.9,98.5 263.6,97.8 264.2,96.5C264.8,95.2 265.4,94.1 265.8,92.0C266.2,89.9 266.5,88.2 266.6,84.0C266.7,79.8 266.7,72.7 266.5,67.0C266.3,61.3 265.9,55.2 265.6,50.0C265.3,44.8 264.9,40.6 264.6,36.0C264.3,31.4 263.9,24.6 263.8,22.3 Z" fill="none" stroke="#2e2c1b" stroke-width="3.2" opacity="0.6" filter="url(#bl1b)"/>
</g>
<clipPath id="ct2"><path d="M246.8,249.3L252.0,248.4L260.0,248.8L268.0,248.2L271.5,246.2L272.4,249.0L272.6,275.0L272.8,300.0L273.3,316.0L274.5,320.5L276.4,320.7L278.5,317.0L284.0,300.0L291.0,275.0L296.0,258.0L299.2,248.7L306.0,248.9L314.0,248.6L320.9,247.9L318.6,252.0L316.5,256.5L314.7,260.7L312.2,262.2L310.8,266.8L312.4,267.2L311.6,276.9L309.3,278.3L307.0,292.0L302.0,312.0L297.5,328.0L294.0,340.0L290.0,352.0L286.5,365.0L284.2,378.0L282.6,395.0L281.6,412.0L281.2,430.0L281.5,447.0L281.0,460.6L274.0,461.0L270.0,462.0L265.5,463.7L261.0,461.8L255.0,461.2L247.8,460.6L247.4,447.0L246.6,430.0L245.6,400.0L245.4,370.0L245.4,330.0L245.8,300.0L246.4,270.0Z"/></clipPath>
<g clip-path="url(#ct2)">
<rect x="244" y="244" width="80" height="222" fill="#70683e"/>
<g filter="url(#bl3)">
<path d="M244,244 L251,244 L250,470 L244,470Z" fill="#4a3f2a" opacity="0.8"/>
<path d="M265,244 L274,244 L275,322 L268,326 L264,300Z" fill="#8d8a80" opacity="1"/>
<path d="M297,245 L309,245 L288,335 L274,330 Z" fill="#5a5c30" opacity="1"/>
<path d="M307,245 L318,245 L309,280 L292,345 L287,375 L282,380 L286,335 Z" fill="#aaa5a0" opacity="1"/>
<path d="M318,245 L324,245 L312,285 L296,345 L292,345 L309,280Z" fill="#4a443c" opacity="0.9"/>
<ellipse cx="266" cy="352" rx="15" ry="34" fill="#76893a" opacity="0.95" filter="url(#bl3)"/>
<ellipse cx="263" cy="420" rx="14" ry="45" fill="#83864a" opacity="0.95"/>
<ellipse cx="256" cy="290" rx="6" ry="40" fill="#6f6f3a" opacity="0.7"/>
<path d="M277,380 L284,380 L283,470 L277,470Z" fill="#4b4230" opacity="0.8"/>
</g>
<rect x="244" y="244" width="80" height="222" filter="url(#noise2)" opacity="0.75"/>
<rect x="244" y="244" width="80" height="222" filter="url(#noise3)" opacity="0.32"/>
<path d="M246.8,249.3L252.0,248.4L260.0,248.8L268.0,248.2L271.5,246.2L272.4,249.0L272.6,275.0L272.8,300.0L273.3,316.0L274.5,320.5L276.4,320.7L278.5,317.0L284.0,300.0L291.0,275.0L296.0,258.0L299.2,248.7L306.0,248.9L314.0,248.6L320.9,247.9L318.6,252.0L316.5,256.5L314.7,260.7L312.2,262.2L310.8,266.8L312.4,267.2L311.6,276.9L309.3,278.3L307.0,292.0L302.0,312.0L297.5,328.0L294.0,340.0L290.0,352.0L286.5,365.0L284.2,378.0L282.6,395.0L281.6,412.0L281.2,430.0L281.5,447.0L281.0,460.6L274.0,461.0L270.0,462.0L265.5,463.7L261.0,461.8L255.0,461.2L247.8,460.6L247.4,447.0L246.6,430.0L245.6,400.0L245.4,370.0L245.4,330.0L245.8,300.0L246.4,270.0 Z" fill="none" stroke="#2b2418" stroke-width="3" opacity="0.75" filter="url(#bl1b)"/>
<path d="M272.6,318 L275.4,319.5 L277,330 L273.6,331 Z" fill="#cfd8dc" opacity="0.95" filter="url(#bl1)"/>
<rect x="248.8" y="408" width="7.2" height="2.6" fill="#c3c9ea" transform="rotate(-6 252 409)"/>
<rect x="273" y="418" width="6.6" height="2.6" fill="#c3c9ea" transform="rotate(-25 276 419)"/>
</g>
<line x1="244.9" y1="103.1" x2="249.2" y2="103.1" stroke="#ff0d0d" stroke-width="2.1"/><path d="M257.8,103.1L248.2,105.8L248.2,100.4Z" fill="#ff0d0d"/>
<line x1="244.9" y1="159.7" x2="249.2" y2="159.7" stroke="#ff0d0d" stroke-width="2.1"/><path d="M257.8,159.7L248.2,162.3L248.2,157.0Z" fill="#ff0d0d"/>
<line x1="309.5" y1="102.2" x2="341.0" y2="91.8" stroke="#ff0d0d" stroke-width="1.6"/><path d="M348.1,89.5L341.0,95.0L339.1,89.3Z" fill="#ff0d0d"/>
<line x1="312.5" y1="159.9" x2="347.0" y2="220.7" stroke="#ff0d0d" stroke-width="1.6"/><path d="M350.7,227.2L343.9,221.3L349.1,218.3Z" fill="#ff0d0d"/>
<g clip-path="url(#c1)"><rect x="370" y="23.3" width="140" height="130.4" fill="url(#g1)"/><rect x="370" y="23.3" width="140" height="130.4" fill="#333" fill-opacity="0.07"/><rect x="370" y="23.3" width="140" height="130.4" fill="url(#mesh)"/></g>
<path d="M372.8,83.3C372.7,81.4 373.0,80.8 373.5,79.4C374.0,78.0 374.8,76.2 375.9,74.8C376.9,73.4 378.2,72.2 379.8,71.2C381.4,70.2 383.3,69.8 385.2,69.0C387.1,68.2 389.3,67.4 391.4,66.2C393.5,65.0 395.7,63.3 397.6,61.6C399.5,59.9 401.4,58.1 403.0,56.1C404.6,54.1 405.7,52.0 406.9,49.9C408.1,47.8 409.0,45.6 410.0,43.7C411.0,41.8 411.8,40.0 413.1,38.3C414.4,36.6 416.0,35.0 417.8,33.6C419.6,32.2 421.9,31.0 424.0,29.8C426.1,28.6 428.1,27.5 430.2,26.6C432.3,25.7 434.3,25.0 436.4,24.6C438.5,24.2 440.4,23.8 442.8,24.0C445.2,24.2 447.9,25.1 450.5,25.9C453.1,26.7 456.0,27.7 458.3,29.0C460.6,30.3 462.9,32.1 464.5,33.6C466.1,35.1 467.0,36.2 467.9,38.3C468.8,40.4 469.0,43.5 469.9,46.1C470.8,48.7 471.8,51.2 473.0,53.8C474.2,56.4 475.6,59.0 476.9,61.6C478.2,64.2 479.5,67.0 480.8,69.3C482.1,71.6 483.4,73.5 484.7,75.6C486.0,77.7 487.4,80.0 488.6,81.8C489.8,83.6 490.3,84.7 491.7,86.2C493.1,87.7 495.4,89.4 497.1,90.9C498.8,92.5 500.4,93.7 501.8,95.5C503.2,97.3 504.7,99.4 505.7,101.7C506.7,104.0 507.4,106.9 507.7,109.5C507.9,112.1 507.8,114.7 507.2,117.3C506.6,119.9 505.5,122.7 504.1,125.0C502.7,127.3 500.6,129.5 498.7,131.2C496.8,132.9 494.4,133.9 492.5,135.1C490.6,136.3 488.8,137.8 487.0,138.2C485.2,138.6 483.5,137.9 481.6,137.8C479.7,137.7 477.7,137.5 475.4,137.8C473.1,138.1 470.2,139.0 467.6,139.8C465.0,140.7 462.7,141.7 459.8,142.9C456.9,144.1 453.6,145.5 450.5,146.8C447.4,148.1 443.6,149.7 441.2,150.7C438.8,151.7 438.2,152.6 436.4,153.0C434.6,153.4 432.1,153.7 430.2,153.3C428.3,152.9 426.5,152.0 424.8,150.7C423.1,149.3 421.5,147.1 420.1,145.2C418.7,143.2 417.6,141.1 416.2,139.0C414.8,136.9 413.2,134.9 411.6,132.8C410.1,130.7 408.3,128.6 406.9,126.6C405.5,124.6 404.4,122.8 403.0,121.1C401.6,119.4 399.8,118.0 398.4,116.5C397.0,115.0 396.2,113.1 394.5,111.8C392.8,110.5 390.4,110.1 388.3,108.7C386.2,107.3 383.9,105.2 382.1,103.3C380.3,101.4 378.7,99.2 377.4,97.1C376.1,95.0 375.1,93.2 374.3,90.9C373.5,88.6 372.9,85.2 372.8,83.3Z" fill="none" stroke="#555" stroke-width="0.6" stroke-opacity="0.75"/>
<rect x="372.8" y="23.3" width="135.0" height="130.4" fill="none" stroke="#555" stroke-width="0.5"/>
<line x1="371.2" x2="372.8" y1="32.4" y2="32.4" stroke="#444" stroke-width="0.4"/>
<text class="dj" x="370.3" y="34.0" font-size="4.5" fill="#222" text-anchor="end">300</text>
<line x1="492.9" x2="492.9" y1="153.7" y2="155.3" stroke="#444" stroke-width="0.4"/>
<line x1="371.2" x2="372.8" y1="50.1" y2="50.1" stroke="#444" stroke-width="0.4"/>
<text class="dj" x="370.3" y="51.7" font-size="4.5" fill="#222" text-anchor="end">200</text>
<line x1="475.1" x2="475.1" y1="153.7" y2="155.3" stroke="#444" stroke-width="0.4"/>
<line x1="371.2" x2="372.8" y1="67.7" y2="67.7" stroke="#444" stroke-width="0.4"/>
<text class="dj" x="370.3" y="69.3" font-size="4.5" fill="#222" text-anchor="end">100</text>
<line x1="457.4" x2="457.4" y1="153.7" y2="155.3" stroke="#444" stroke-width="0.4"/>
<line x1="371.2" x2="372.8" y1="85.4" y2="85.4" stroke="#444" stroke-width="0.4"/>
<text class="dj" x="370.3" y="87.0" font-size="4.5" fill="#222" text-anchor="end">0</text>
<line x1="439.6" x2="439.6" y1="153.7" y2="155.3" stroke="#444" stroke-width="0.4"/>
<line x1="371.2" x2="372.8" y1="103.1" y2="103.1" stroke="#444" stroke-width="0.4"/>
<text class="dj" x="370.3" y="104.7" font-size="4.5" fill="#222" text-anchor="end">−100</text>
<line x1="421.9" x2="421.9" y1="153.7" y2="155.3" stroke="#444" stroke-width="0.4"/>
<line x1="371.2" x2="372.8" y1="120.7" y2="120.7" stroke="#444" stroke-width="0.4"/>
<text class="dj" x="370.3" y="122.3" font-size="4.5" fill="#222" text-anchor="end">−200</text>
<line x1="404.1" x2="404.1" y1="153.7" y2="155.3" stroke="#444" stroke-width="0.4"/>
<line x1="371.2" x2="372.8" y1="138.4" y2="138.4" stroke="#444" stroke-width="0.4"/>
<text class="dj" x="370.3" y="140.0" font-size="4.5" fill="#222" text-anchor="end">−300</text>
<line x1="386.4" x2="386.4" y1="153.7" y2="155.3" stroke="#444" stroke-width="0.4"/>
<text class="dj" x="441" y="159.5" font-size="3.9" fill="#333" text-anchor="middle">mm</text>
<text class="dj" transform="translate(356.0,88.5) rotate(-90)" font-size="3.9" fill="#333" text-anchor="middle">mm</text>
<rect x="511" y="23.30" width="7.0" height="9.41" fill="#0f437b"/>
<rect x="511" y="32.61" width="7.0" height="9.41" fill="#2369ad"/>
<line x1="518.0" x2="519.0" y1="32.61" y2="32.61" stroke="#444" stroke-width="0.3"/>
<rect x="511" y="41.93" width="7.0" height="9.41" fill="#3b88be"/>
<line x1="518.0" x2="519.0" y1="41.93" y2="41.93" stroke="#444" stroke-width="0.3"/>
<rect x="511" y="51.24" width="7.0" height="9.41" fill="#68abd0"/>
<line x1="518.0" x2="519.0" y1="51.24" y2="51.24" stroke="#444" stroke-width="0.3"/>
<rect x="511" y="60.56" width="7.0" height="9.41" fill="#a0cce2"/>
<line x1="518.0" x2="519.0" y1="60.56" y2="60.56" stroke="#444" stroke-width="0.3"/>
<rect x="511" y="69.87" width="7.0" height="9.41" fill="#cce2ef"/>
<line x1="518.0" x2="519.0" y1="69.87" y2="69.87" stroke="#444" stroke-width="0.3"/>
<rect x="511" y="79.19" width="7.0" height="9.41" fill="#e9f0f4"/>
<line x1="518.0" x2="519.0" y1="79.19" y2="79.19" stroke="#444" stroke-width="0.3"/>
<rect x="511" y="88.50" width="7.0" height="9.41" fill="#f9ede5"/>
<line x1="518.0" x2="519.0" y1="88.50" y2="88.50" stroke="#444" stroke-width="0.3"/>
<rect x="511" y="97.81" width="7.0" height="9.41" fill="#fcd8c4"/>
<line x1="518.0" x2="519.0" y1="97.81" y2="97.81" stroke="#444" stroke-width="0.3"/>
<rect x="511" y="107.13" width="7.0" height="9.41" fill="#f6b596"/>
<line x1="518.0" x2="519.0" y1="107.13" y2="107.13" stroke="#444" stroke-width="0.3"/>
<rect x="511" y="116.44" width="7.0" height="9.41" fill="#e88f72"/>
<line x1="518.0" x2="519.0" y1="116.44" y2="116.44" stroke="#444" stroke-width="0.3"/>
<rect x="511" y="125.76" width="7.0" height="9.41" fill="#d6634f"/>
<line x1="518.0" x2="519.0" y1="125.76" y2="125.76" stroke="#444" stroke-width="0.3"/>
<rect x="511" y="135.07" width="7.0" height="9.41" fill="#c03a38"/>
<line x1="518.0" x2="519.0" y1="135.07" y2="135.07" stroke="#444" stroke-width="0.3"/>
<rect x="511" y="144.39" width="7.0" height="9.41" fill="#a51429"/>
<line x1="518.0" x2="519.0" y1="144.39" y2="144.39" stroke="#444" stroke-width="0.3"/>
<rect x="511" y="23.3" width="7.0" height="130.4" fill="none" stroke="#666" stroke-width="0.4"/>
<text x="523" y="25.9" font-size="5.2" fill="#222">3.3</text>
<text x="523.2" y="88.1" font-size="5.2" fill="#222">0</text>
<text x="522.2" y="154.3" font-size="5.2" fill="#222">-2.9</text>
<text transform="translate(540.6,87.5) rotate(-90)" font-size="5.4" fill="#222" text-anchor="middle">Stress in N/mm<tspan dy="-1.8" font-size="3.4">2</tspan></text>
<g clip-path="url(#c2)"><rect x="370" y="168.2" width="140" height="131.0" fill="url(#g2)"/><rect x="370" y="168.2" width="140" height="131.0" fill="#333" fill-opacity="0.07"/><rect x="370" y="168.2" width="140" height="131.0" fill="url(#mesh)"/></g>
<path d="M380.5,220.0C380.4,217.6 380.4,216.3 380.8,214.5C381.2,212.7 382.1,210.8 383.2,209.1C384.3,207.4 385.9,205.9 387.7,204.5C389.5,203.1 391.8,202.1 394.1,200.9C396.4,199.7 399.0,198.4 401.4,197.3C403.8,196.2 406.3,195.3 408.6,194.5C410.9,193.7 413.2,193.4 415.0,192.7C416.8,191.9 418.1,191.2 419.5,190.0C420.9,188.8 421.8,186.7 423.2,185.5C424.6,184.3 425.7,183.6 427.7,182.7C429.7,181.8 432.6,180.8 435.0,180.0C437.4,179.2 439.9,178.6 442.3,178.2C444.7,177.8 447.4,177.6 449.5,177.6C451.6,177.6 452.9,177.9 455.0,178.2C457.1,178.4 460.0,178.8 462.3,179.1C464.6,179.4 466.8,179.2 468.6,180.0C470.4,180.8 471.8,182.1 473.2,183.6C474.6,185.1 475.8,187.1 476.8,189.1C477.9,191.1 478.4,193.4 479.5,195.5C480.6,197.6 482.3,199.7 483.2,201.8C484.1,203.9 483.9,206.2 485.0,208.2C486.1,210.2 488.1,211.6 489.5,213.6C490.9,215.6 491.8,217.9 493.2,220.0C494.6,222.1 496.0,224.3 497.7,226.4C499.4,228.5 502.0,230.4 503.2,232.7C504.4,235.0 504.7,237.7 504.8,240.0C504.9,242.3 504.3,244.2 503.7,246.8C503.1,249.5 502.2,253.0 501.4,255.9C500.5,258.8 499.5,261.7 498.6,264.1C497.7,266.5 497.1,268.5 495.9,270.5C494.7,272.5 493.1,274.5 491.4,275.9C489.7,277.2 487.9,277.7 485.9,278.6C483.9,279.5 481.6,280.5 479.5,281.4C477.4,282.3 475.2,283.4 473.2,284.1C471.2,284.9 469.5,285.4 467.7,285.9C465.9,286.3 464.1,286.4 462.3,286.8C460.5,287.2 458.9,288.3 456.8,288.6C454.7,288.9 451.9,288.9 449.5,288.6C447.1,288.3 444.3,287.6 442.3,286.8C440.3,286.1 439.5,285.3 437.7,284.1C435.9,282.9 433.5,281.0 431.4,279.5C429.3,278.0 427.1,276.7 425.0,275.0C422.9,273.3 420.7,270.9 418.6,269.5C416.5,268.1 414.3,268.3 412.3,266.8C410.3,265.3 408.6,262.6 406.8,260.5C405.0,258.4 403.2,256.2 401.4,254.1C399.6,252.0 397.9,249.8 395.9,247.7C393.9,245.6 391.5,243.5 389.5,241.4C387.5,239.3 385.4,237.1 384.1,235.0C382.8,232.9 382.1,231.5 381.5,229.0C380.9,226.5 380.6,222.4 380.5,220.0Z" fill="none" stroke="#555" stroke-width="0.95" stroke-opacity="0.75"/>
<rect x="372.8" y="168.2" width="135.0" height="131.0" fill="none" stroke="#555" stroke-width="0.5"/>
<line x1="371.2" x2="372.8" y1="177.5" y2="177.5" stroke="#444" stroke-width="0.4"/>
<text class="dj" x="370.3" y="179.1" font-size="4.5" fill="#222" text-anchor="end">300</text>
<line x1="492.9" x2="492.9" y1="299.2" y2="300.8" stroke="#444" stroke-width="0.4"/>
<text class="dj" x="492.9" y="305.6" font-size="4.5" fill="#222" text-anchor="middle">300</text>
<line x1="371.2" x2="372.8" y1="195.2" y2="195.2" stroke="#444" stroke-width="0.4"/>
<text class="dj" x="370.3" y="196.8" font-size="4.5" fill="#222" text-anchor="end">200</text>
<line x1="475.1" x2="475.1" y1="299.2" y2="300.8" stroke="#444" stroke-width="0.4"/>
<text class="dj" x="475.1" y="305.6" font-size="4.5" fill="#222" text-anchor="middle">200</text>
<line x1="371.2" x2="372.8" y1="212.8" y2="212.8" stroke="#444" stroke-width="0.4"/>
<text class="dj" x="370.3" y="214.4" font-size="4.5" fill="#222" text-anchor="end">100</text>
<line x1="457.4" x2="457.4" y1="299.2" y2="300.8" stroke="#444" stroke-width="0.4"/>
<text class="dj" x="457.4" y="305.6" font-size="4.5" fill="#222" text-anchor="middle">100</text>
<line x1="371.2" x2="372.8" y1="230.5" y2="230.5" stroke="#444" stroke-width="0.4"/>
<text class="dj" x="370.3" y="232.1" font-size="4.5" fill="#222" text-anchor="end">0</text>
<line x1="439.6" x2="439.6" y1="299.2" y2="300.8" stroke="#444" stroke-width="0.4"/>
<text class="dj" x="439.6" y="305.6" font-size="4.5" fill="#222" text-anchor="middle">0</text>
<line x1="371.2" x2="372.8" y1="248.2" y2="248.2" stroke="#444" stroke-width="0.4"/>
<text class="dj" x="370.3" y="249.8" font-size="4.5" fill="#222" text-anchor="end">−100</text>
<line x1="421.9" x2="421.9" y1="299.2" y2="300.8" stroke="#444" stroke-width="0.4"/>
<text class="dj" x="421.9" y="305.6" font-size="4.5" fill="#222" text-anchor="middle">−100</text>
<line x1="371.2" x2="372.8" y1="265.8" y2="265.8" stroke="#444" stroke-width="0.4"/>
<text class="dj" x="370.3" y="267.4" font-size="4.5" fill="#222" text-anchor="end">−200</text>
<line x1="404.1" x2="404.1" y1="299.2" y2="300.8" stroke="#444" stroke-width="0.4"/>
<text class="dj" x="404.1" y="305.6" font-size="4.5" fill="#222" text-anchor="middle">−200</text>
<line x1="371.2" x2="372.8" y1="283.5" y2="283.5" stroke="#444" stroke-width="0.4"/>
<text class="dj" x="370.3" y="285.1" font-size="4.5" fill="#222" text-anchor="end">−300</text>
<line x1="386.4" x2="386.4" y1="299.2" y2="300.8" stroke="#444" stroke-width="0.4"/>
<text class="dj" x="386.4" y="305.6" font-size="4.5" fill="#222" text-anchor="middle">−300</text>
<text class="dj" x="441" y="310.6" font-size="3.9" fill="#333" text-anchor="middle">mm</text>
<text class="dj" transform="translate(356.0,233.7) rotate(-90)" font-size="3.9" fill="#333" text-anchor="middle">mm</text>
<rect x="511" y="168.20" width="7.0" height="9.46" fill="#0f437b"/>
<rect x="511" y="177.56" width="7.0" height="9.46" fill="#2369ad"/>
<line x1="518.0" x2="519.0" y1="177.56" y2="177.56" stroke="#444" stroke-width="0.3"/>
<rect x="511" y="186.91" width="7.0" height="9.46" fill="#3b88be"/>
<line x1="518.0" x2="519.0" y1="186.91" y2="186.91" stroke="#444" stroke-width="0.3"/>
<rect x="511" y="196.27" width="7.0" height="9.46" fill="#68abd0"/>
<line x1="518.0" x2="519.0" y1="196.27" y2="196.27" stroke="#444" stroke-width="0.3"/>
<rect x="511" y="205.63" width="7.0" height="9.46" fill="#a0cce2"/>
<line x1="518.0" x2="519.0" y1="205.63" y2="205.63" stroke="#444" stroke-width="0.3"/>
<rect x="511" y="214.99" width="7.0" height="9.46" fill="#cce2ef"/>
<line x1="518.0" x2="519.0" y1="214.99" y2="214.99" stroke="#444" stroke-width="0.3"/>
<rect x="511" y="224.34" width="7.0" height="9.46" fill="#e9f0f4"/>
<line x1="518.0" x2="519.0" y1="224.34" y2="224.34" stroke="#444" stroke-width="0.3"/>
<rect x="511" y="233.70" width="7.0" height="9.46" fill="#f9ede5"/>
<line x1="518.0" x2="519.0" y1="233.70" y2="233.70" stroke="#444" stroke-width="0.3"/>
<rect x="511" y="243.06" width="7.0" height="9.46" fill="#fcd7c2"/>
<line x1="518.0" x2="519.0" y1="243.06" y2="243.06" stroke="#444" stroke-width="0.3"/>
<rect x="511" y="252.41" width="7.0" height="9.46" fill="#f6b191"/>
<line x1="518.0" x2="519.0" y1="252.41" y2="252.41" stroke="#444" stroke-width="0.3"/>
<rect x="511" y="261.77" width="7.0" height="9.46" fill="#e58368"/>
<line x1="518.0" x2="519.0" y1="261.77" y2="261.77" stroke="#444" stroke-width="0.3"/>
<rect x="511" y="271.13" width="7.0" height="9.46" fill="#ce4f45"/>
<line x1="518.0" x2="519.0" y1="271.13" y2="271.13" stroke="#444" stroke-width="0.3"/>
<rect x="511" y="280.49" width="7.0" height="9.46" fill="#b41c2d"/>
<line x1="518.0" x2="519.0" y1="280.49" y2="280.49" stroke="#444" stroke-width="0.3"/>
<rect x="511" y="289.84" width="7.0" height="9.46" fill="#810823"/>
<line x1="518.0" x2="519.0" y1="289.84" y2="289.84" stroke="#444" stroke-width="0.3"/>
<rect x="511" y="168.2" width="7.0" height="131.0" fill="none" stroke="#666" stroke-width="0.4"/>
<text x="523" y="170.8" font-size="5.2" fill="#222">3.7</text>
<text x="523.2" y="233.3" font-size="5.2" fill="#222">0</text>
<text x="522.2" y="299.8" font-size="5.2" fill="#222">-3.8</text>
<text transform="translate(540.6,232.7) rotate(-90)" font-size="5.4" fill="#222" text-anchor="middle">Stress in N/mm<tspan dy="-1.8" font-size="3.4">2</tspan></text>
</svg></body></html>
